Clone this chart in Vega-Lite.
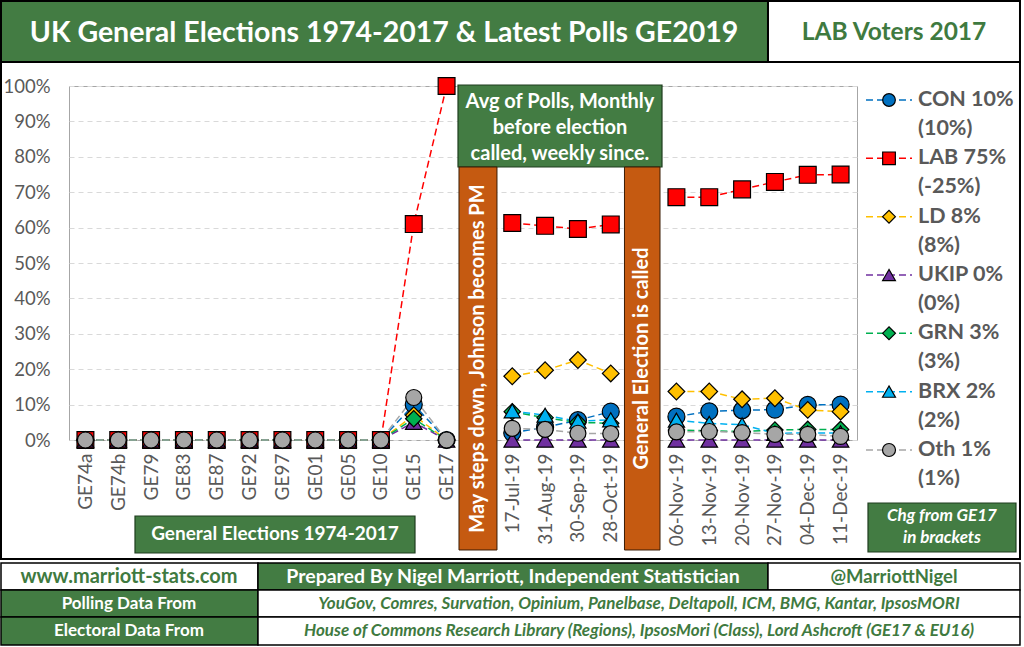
{
  "$schema": "https://vega.github.io/schema/vega-lite/v6.json",
  "width": 788,
  "height": 354,
  "autosize": {"type": "none"},
  "padding": {"left": 69, "top": 86, "right": 167, "bottom": 207},
  "background": "white",
  "config": {
    "font": "Lato",
    "view": {"stroke": "#A6A6A6", "strokeWidth": 1}
  },
  "datasets": {
    "votes": [
      {"when": "GE74a", "period": "GE", "party": "CON", "pct": 0},
      {"when": "GE74b", "period": "GE", "party": "CON", "pct": 0},
      {"when": "GE79", "period": "GE", "party": "CON", "pct": 0},
      {"when": "GE83", "period": "GE", "party": "CON", "pct": 0},
      {"when": "GE87", "period": "GE", "party": "CON", "pct": 0},
      {"when": "GE92", "period": "GE", "party": "CON", "pct": 0},
      {"when": "GE97", "period": "GE", "party": "CON", "pct": 0},
      {"when": "GE01", "period": "GE", "party": "CON", "pct": 0},
      {"when": "GE05", "period": "GE", "party": "CON", "pct": 0},
      {"when": "GE10", "period": "GE", "party": "CON", "pct": 0},
      {"when": "GE15", "period": "GE", "party": "CON", "pct": 10},
      {"when": "GE17", "period": "GE", "party": "CON", "pct": 0},
      {"when": "17-Jul-19", "period": "Monthly", "party": "CON", "pct": 2},
      {"when": "31-Aug-19", "period": "Monthly", "party": "CON", "pct": 3.6},
      {"when": "30-Sep-19", "period": "Monthly", "party": "CON", "pct": 5.6},
      {"when": "28-Oct-19", "period": "Monthly", "party": "CON", "pct": 8},
      {"when": "06-Nov-19", "period": "Weekly", "party": "CON", "pct": 6.6},
      {"when": "13-Nov-19", "period": "Weekly", "party": "CON", "pct": 8.1},
      {"when": "20-Nov-19", "period": "Weekly", "party": "CON", "pct": 8.4},
      {"when": "27-Nov-19", "period": "Weekly", "party": "CON", "pct": 8.6},
      {"when": "04-Dec-19", "period": "Weekly", "party": "CON", "pct": 9.9},
      {"when": "11-Dec-19", "period": "Weekly", "party": "CON", "pct": 10},

      {"when": "GE74a", "period": "GE", "party": "LAB", "pct": 0},
      {"when": "GE74b", "period": "GE", "party": "LAB", "pct": 0},
      {"when": "GE79", "period": "GE", "party": "LAB", "pct": 0},
      {"when": "GE83", "period": "GE", "party": "LAB", "pct": 0},
      {"when": "GE87", "period": "GE", "party": "LAB", "pct": 0},
      {"when": "GE92", "period": "GE", "party": "LAB", "pct": 0},
      {"when": "GE97", "period": "GE", "party": "LAB", "pct": 0},
      {"when": "GE01", "period": "GE", "party": "LAB", "pct": 0},
      {"when": "GE05", "period": "GE", "party": "LAB", "pct": 0},
      {"when": "GE10", "period": "GE", "party": "LAB", "pct": 0},
      {"when": "GE15", "period": "GE", "party": "LAB", "pct": 61},
      {"when": "GE17", "period": "GE", "party": "LAB", "pct": 100},
      {"when": "17-Jul-19", "period": "Monthly", "party": "LAB", "pct": 61.3},
      {"when": "31-Aug-19", "period": "Monthly", "party": "LAB", "pct": 60.5},
      {"when": "30-Sep-19", "period": "Monthly", "party": "LAB", "pct": 59.6},
      {"when": "28-Oct-19", "period": "Monthly", "party": "LAB", "pct": 60.9},
      {"when": "06-Nov-19", "period": "Weekly", "party": "LAB", "pct": 68.6},
      {"when": "13-Nov-19", "period": "Weekly", "party": "LAB", "pct": 68.6},
      {"when": "20-Nov-19", "period": "Weekly", "party": "LAB", "pct": 70.8},
      {"when": "27-Nov-19", "period": "Weekly", "party": "LAB", "pct": 72.9},
      {"when": "04-Dec-19", "period": "Weekly", "party": "LAB", "pct": 74.9},
      {"when": "11-Dec-19", "period": "Weekly", "party": "LAB", "pct": 75},

      {"when": "GE74a", "period": "GE", "party": "LD", "pct": 0},
      {"when": "GE74b", "period": "GE", "party": "LD", "pct": 0},
      {"when": "GE79", "period": "GE", "party": "LD", "pct": 0},
      {"when": "GE83", "period": "GE", "party": "LD", "pct": 0},
      {"when": "GE87", "period": "GE", "party": "LD", "pct": 0},
      {"when": "GE92", "period": "GE", "party": "LD", "pct": 0},
      {"when": "GE97", "period": "GE", "party": "LD", "pct": 0},
      {"when": "GE01", "period": "GE", "party": "LD", "pct": 0},
      {"when": "GE05", "period": "GE", "party": "LD", "pct": 0},
      {"when": "GE10", "period": "GE", "party": "LD", "pct": 0},
      {"when": "GE15", "period": "GE", "party": "LD", "pct": 7},
      {"when": "GE17", "period": "GE", "party": "LD", "pct": 0},
      {"when": "17-Jul-19", "period": "Monthly", "party": "LD", "pct": 18},
      {"when": "31-Aug-19", "period": "Monthly", "party": "LD", "pct": 19.7},
      {"when": "30-Sep-19", "period": "Monthly", "party": "LD", "pct": 22.6},
      {"when": "28-Oct-19", "period": "Monthly", "party": "LD", "pct": 18.8},
      {"when": "06-Nov-19", "period": "Weekly", "party": "LD", "pct": 13.7},
      {"when": "13-Nov-19", "period": "Weekly", "party": "LD", "pct": 13.7},
      {"when": "20-Nov-19", "period": "Weekly", "party": "LD", "pct": 11.5},
      {"when": "27-Nov-19", "period": "Weekly", "party": "LD", "pct": 11.8},
      {"when": "04-Dec-19", "period": "Weekly", "party": "LD", "pct": 8.5},
      {"when": "11-Dec-19", "period": "Weekly", "party": "LD", "pct": 8},

      {"when": "GE74a", "period": "GE", "party": "UKIP", "pct": 0},
      {"when": "GE74b", "period": "GE", "party": "UKIP", "pct": 0},
      {"when": "GE79", "period": "GE", "party": "UKIP", "pct": 0},
      {"when": "GE83", "period": "GE", "party": "UKIP", "pct": 0},
      {"when": "GE87", "period": "GE", "party": "UKIP", "pct": 0},
      {"when": "GE92", "period": "GE", "party": "UKIP", "pct": 0},
      {"when": "GE97", "period": "GE", "party": "UKIP", "pct": 0},
      {"when": "GE01", "period": "GE", "party": "UKIP", "pct": 0},
      {"when": "GE05", "period": "GE", "party": "UKIP", "pct": 0},
      {"when": "GE10", "period": "GE", "party": "UKIP", "pct": 0},
      {"when": "GE15", "period": "GE", "party": "UKIP", "pct": 5},
      {"when": "GE17", "period": "GE", "party": "UKIP", "pct": 0},
      {"when": "17-Jul-19", "period": "Monthly", "party": "UKIP", "pct": 0},
      {"when": "31-Aug-19", "period": "Monthly", "party": "UKIP", "pct": 0},
      {"when": "30-Sep-19", "period": "Monthly", "party": "UKIP", "pct": 0},
      {"when": "28-Oct-19", "period": "Monthly", "party": "UKIP", "pct": 0},
      {"when": "06-Nov-19", "period": "Weekly", "party": "UKIP", "pct": 0},
      {"when": "13-Nov-19", "period": "Weekly", "party": "UKIP", "pct": 0},
      {"when": "20-Nov-19", "period": "Weekly", "party": "UKIP", "pct": 0},
      {"when": "27-Nov-19", "period": "Weekly", "party": "UKIP", "pct": 0},
      {"when": "04-Dec-19", "period": "Weekly", "party": "UKIP", "pct": 0},
      {"when": "11-Dec-19", "period": "Weekly", "party": "UKIP", "pct": 0},

      {"when": "GE74a", "period": "GE", "party": "GRN", "pct": 0},
      {"when": "GE74b", "period": "GE", "party": "GRN", "pct": 0},
      {"when": "GE79", "period": "GE", "party": "GRN", "pct": 0},
      {"when": "GE83", "period": "GE", "party": "GRN", "pct": 0},
      {"when": "GE87", "period": "GE", "party": "GRN", "pct": 0},
      {"when": "GE92", "period": "GE", "party": "GRN", "pct": 0},
      {"when": "GE97", "period": "GE", "party": "GRN", "pct": 0},
      {"when": "GE01", "period": "GE", "party": "GRN", "pct": 0},
      {"when": "GE05", "period": "GE", "party": "GRN", "pct": 0},
      {"when": "GE10", "period": "GE", "party": "GRN", "pct": 0},
      {"when": "GE15", "period": "GE", "party": "GRN", "pct": 6},
      {"when": "GE17", "period": "GE", "party": "GRN", "pct": 0},
      {"when": "17-Jul-19", "period": "Monthly", "party": "GRN", "pct": 8},
      {"when": "31-Aug-19", "period": "Monthly", "party": "GRN", "pct": 6.3},
      {"when": "30-Sep-19", "period": "Monthly", "party": "GRN", "pct": 5},
      {"when": "28-Oct-19", "period": "Monthly", "party": "GRN", "pct": 4.7},
      {"when": "06-Nov-19", "period": "Weekly", "party": "GRN", "pct": 2.8},
      {"when": "13-Nov-19", "period": "Weekly", "party": "GRN", "pct": 2.6},
      {"when": "20-Nov-19", "period": "Weekly", "party": "GRN", "pct": 2.4},
      {"when": "27-Nov-19", "period": "Weekly", "party": "GRN", "pct": 2.8},
      {"when": "04-Dec-19", "period": "Weekly", "party": "GRN", "pct": 3},
      {"when": "11-Dec-19", "period": "Weekly", "party": "GRN", "pct": 3},

      {"when": "17-Jul-19", "period": "Monthly", "party": "BRX", "pct": 8.2},
      {"when": "31-Aug-19", "period": "Monthly", "party": "BRX", "pct": 7},
      {"when": "30-Sep-19", "period": "Monthly", "party": "BRX", "pct": 5.3},
      {"when": "28-Oct-19", "period": "Monthly", "party": "BRX", "pct": 5.7},
      {"when": "06-Nov-19", "period": "Weekly", "party": "BRX", "pct": 5.6},
      {"when": "13-Nov-19", "period": "Weekly", "party": "BRX", "pct": 4.7},
      {"when": "20-Nov-19", "period": "Weekly", "party": "BRX", "pct": 4.3},
      {"when": "27-Nov-19", "period": "Weekly", "party": "BRX", "pct": 1.9},
      {"when": "04-Dec-19", "period": "Weekly", "party": "BRX", "pct": 2},
      {"when": "11-Dec-19", "period": "Weekly", "party": "BRX", "pct": 2},

      {"when": "GE74a", "period": "GE", "party": "Oth", "pct": 0},
      {"when": "GE74b", "period": "GE", "party": "Oth", "pct": 0},
      {"when": "GE79", "period": "GE", "party": "Oth", "pct": 0},
      {"when": "GE83", "period": "GE", "party": "Oth", "pct": 0},
      {"when": "GE87", "period": "GE", "party": "Oth", "pct": 0},
      {"when": "GE92", "period": "GE", "party": "Oth", "pct": 0},
      {"when": "GE97", "period": "GE", "party": "Oth", "pct": 0},
      {"when": "GE01", "period": "GE", "party": "Oth", "pct": 0},
      {"when": "GE05", "period": "GE", "party": "Oth", "pct": 0},
      {"when": "GE10", "period": "GE", "party": "Oth", "pct": 0},
      {"when": "GE15", "period": "GE", "party": "Oth", "pct": 12},
      {"when": "GE17", "period": "GE", "party": "Oth", "pct": 0},
      {"when": "17-Jul-19", "period": "Monthly", "party": "Oth", "pct": 3.3},
      {"when": "31-Aug-19", "period": "Monthly", "party": "Oth", "pct": 3},
      {"when": "30-Sep-19", "period": "Monthly", "party": "Oth", "pct": 1.9},
      {"when": "28-Oct-19", "period": "Monthly", "party": "Oth", "pct": 1.8},
      {"when": "06-Nov-19", "period": "Weekly", "party": "Oth", "pct": 2.3},
      {"when": "13-Nov-19", "period": "Weekly", "party": "Oth", "pct": 2.4},
      {"when": "20-Nov-19", "period": "Weekly", "party": "Oth", "pct": 2.1},
      {"when": "27-Nov-19", "period": "Weekly", "party": "Oth", "pct": 1.6},
      {"when": "04-Dec-19", "period": "Weekly", "party": "Oth", "pct": 1.6},
      {"when": "11-Dec-19", "period": "Weekly", "party": "Oth", "pct": 1}
    ],
    "parties": [
      {"party": "CON", "label": "CON 10%", "chg": "(10%)"},
      {"party": "LAB", "label": "LAB 75%", "chg": "(-25%)"},
      {"party": "LD", "label": "LD 8%", "chg": "(8%)"},
      {"party": "UKIP", "label": "UKIP 0%", "chg": "(0%)"},
      {"party": "GRN", "label": "GRN 3%", "chg": "(3%)"},
      {"party": "BRX", "label": "BRX 2%", "chg": "(2%)"},
      {"party": "Oth", "label": "Oth 1%", "chg": "(1%)"}
    ]
  },
  "layer": [
    {
      "description": "Panels, boxes and notes around the plot, placed in the plot's own units (x: category slot, y: percent).",
      "data": {"values": [{}]},
      "layer": [
        {
          "mark": {"type": "rect", "fill": "#437C43", "stroke": "#000000", "strokeWidth": 2},
          "encoding": {
            "x": {"datum": -2.571, "type": "quantitative", "scale": {"domain": [-0.5, 23.5], "nice": false, "zero": false}, "axis": null},
            "x2": {"datum": 20.789},
            "y": {"datum": 124.01, "type": "quantitative", "scale": {"domain": [0, 100], "nice": false, "zero": false}, "axis": null},
            "y2": {"datum": 106.78}
          }
        },
        {
          "mark": {"type": "text", "color": "white", "fontSize": 28.5, "fontWeight": "bold", "align": "center", "baseline": "middle"},
          "encoding": {
            "x": {"datum": 9.094, "type": "quantitative", "scale": {"domain": [-0.5, 23.5], "nice": false, "zero": false}, "axis": null},
            "y": {"datum": 115.1, "type": "quantitative", "scale": {"domain": [0, 100], "nice": false, "zero": false}, "axis": null},
            "text": {"value": "UK General Elections 1974-2017 & Latest Polls GE2019"}
          }
        },
        {
          "mark": {"type": "rect", "fill": "white", "stroke": "#000000", "strokeWidth": 2},
          "encoding": {
            "x": {"datum": 20.789, "type": "quantitative", "scale": {"domain": [-0.5, 23.5], "nice": false, "zero": false}, "axis": null},
            "x2": {"datum": 28.464},
            "y": {"datum": 124.01, "type": "quantitative", "scale": {"domain": [0, 100], "nice": false, "zero": false}, "axis": null},
            "y2": {"datum": 106.78}
          }
        },
        {
          "mark": {"type": "text", "color": "#3F7A3F", "fontSize": 24.5, "fontWeight": "bold", "align": "center", "baseline": "middle"},
          "encoding": {
            "x": {"datum": 24.627, "type": "quantitative", "scale": {"domain": [-0.5, 23.5], "nice": false, "zero": false}, "axis": null},
            "y": {"datum": 115.1, "type": "quantitative", "scale": {"domain": [0, 100], "nice": false, "zero": false}, "axis": null},
            "text": {"value": "LAB Voters 2017"}
          }
        },
        {
          "mark": {"type": "rect", "fillOpacity": 0, "stroke": "#000000", "strokeWidth": 2},
          "encoding": {
            "x": {"datum": -2.571, "type": "quantitative", "scale": {"domain": [-0.5, 23.5], "nice": false, "zero": false}, "axis": null},
            "x2": {"datum": 28.464},
            "y": {"datum": 106.78, "type": "quantitative", "scale": {"domain": [0, 100], "nice": false, "zero": false}, "axis": null},
            "y2": {"datum": -33.62}
          }
        },
        {
          "mark": {"type": "rect", "fill": "#437C43", "stroke": "#1E3D1E", "strokeWidth": 1.2},
          "encoding": {
            "x": {"datum": 11.348, "type": "quantitative", "scale": {"domain": [-0.5, 23.5], "nice": false, "zero": false}, "axis": null},
            "x2": {"datum": 17.561},
            "y": {"datum": 100.28, "type": "quantitative", "scale": {"domain": [0, 100], "nice": false, "zero": false}, "axis": null},
            "y2": {"datum": 77.12}
          }
        },
        {
          "mark": {"type": "text", "color": "white", "fontSize": 20, "fontWeight": "bold", "align": "center", "baseline": "middle", "lineHeight": 26},
          "encoding": {
            "x": {"datum": 14.454, "type": "quantitative", "scale": {"domain": [-0.5, 23.5], "nice": false, "zero": false}, "axis": null},
            "y": {"datum": 95.48, "type": "quantitative", "scale": {"domain": [0, 100], "nice": false, "zero": false}, "axis": null},
            "text": {"value": ["Avg of Polls, Monthly", "before election", "called, weekly since."]}
          }
        },
        {
          "mark": {"type": "rect", "fill": "#C55A11", "stroke": "#3A1C05", "strokeWidth": 1},
          "encoding": {
            "x": {"datum": 11.378, "type": "quantitative", "scale": {"domain": [-0.5, 23.5], "nice": false, "zero": false}, "axis": null},
            "x2": {"datum": 12.535},
            "y": {"datum": 77.12, "type": "quantitative", "scale": {"domain": [0, 100], "nice": false, "zero": false}, "axis": null},
            "y2": {"datum": -31.07}
          }
        },
        {
          "mark": {"type": "text", "color": "white", "fontSize": 20, "fontWeight": "bold", "align": "center", "baseline": "middle", "angle": 270},
          "encoding": {
            "x": {"datum": 11.957, "type": "quantitative", "scale": {"domain": [-0.5, 23.5], "nice": false, "zero": false}, "axis": null},
            "y": {"datum": 23.02, "type": "quantitative", "scale": {"domain": [0, 100], "nice": false, "zero": false}, "axis": null},
            "text": {"value": "May steps down, Johnson  becomes PM"}
          }
        },
        {
          "mark": {"type": "rect", "fill": "#C55A11", "stroke": "#3A1C05", "strokeWidth": 1},
          "encoding": {
            "x": {"datum": 16.418, "type": "quantitative", "scale": {"domain": [-0.5, 23.5], "nice": false, "zero": false}, "axis": null},
            "x2": {"datum": 17.5},
            "y": {"datum": 77.12, "type": "quantitative", "scale": {"domain": [0, 100], "nice": false, "zero": false}, "axis": null},
            "y2": {"datum": -31.07}
          }
        },
        {
          "mark": {"type": "text", "color": "white", "fontSize": 20, "fontWeight": "bold", "align": "center", "baseline": "middle", "angle": 270},
          "encoding": {
            "x": {"datum": 16.952, "type": "quantitative", "scale": {"domain": [-0.5, 23.5], "nice": false, "zero": false}, "axis": null},
            "y": {"datum": 23.02, "type": "quantitative", "scale": {"domain": [0, 100], "nice": false, "zero": false}, "axis": null},
            "text": {"value": "General Election is called"}
          }
        },
        {
          "mark": {"type": "rect", "fill": "#437C43", "stroke": "#1E3D1E", "strokeWidth": 1.2},
          "encoding": {
            "x": {"datum": 1.51, "type": "quantitative", "scale": {"domain": [-0.5, 23.5], "nice": false, "zero": false}, "axis": null},
            "x2": {"datum": 10.038},
            "y": {"datum": -21.47, "type": "quantitative", "scale": {"domain": [0, 100], "nice": false, "zero": false}, "axis": null},
            "y2": {"datum": -31.92}
          }
        },
        {
          "mark": {"type": "text", "color": "white", "fontSize": 19, "fontWeight": "bold", "align": "center", "baseline": "middle"},
          "encoding": {
            "x": {"datum": 5.774, "type": "quantitative", "scale": {"domain": [-0.5, 23.5], "nice": false, "zero": false}, "axis": null},
            "y": {"datum": -26.69, "type": "quantitative", "scale": {"domain": [0, 100], "nice": false, "zero": false}, "axis": null},
            "text": {"value": "General Elections 1974-2017"}
          }
        },
        {
          "mark": {"type": "rect", "fill": "#437C43", "stroke": "#1E3D1E", "strokeWidth": 1.2},
          "encoding": {
            "x": {"datum": 23.835, "type": "quantitative", "scale": {"domain": [-0.5, 23.5], "nice": false, "zero": false}, "axis": null},
            "x2": {"datum": 28.342},
            "y": {"datum": -17.8, "type": "quantitative", "scale": {"domain": [0, 100], "nice": false, "zero": false}, "axis": null},
            "y2": {"datum": -31.64}
          }
        },
        {
          "mark": {"type": "text", "color": "white", "fontSize": 17, "fontWeight": "bold", "fontStyle": "italic", "align": "center", "baseline": "middle", "lineHeight": 22},
          "encoding": {
            "x": {"datum": 26.089, "type": "quantitative", "scale": {"domain": [-0.5, 23.5], "nice": false, "zero": false}, "axis": null},
            "y": {"datum": -21.47, "type": "quantitative", "scale": {"domain": [0, 100], "nice": false, "zero": false}, "axis": null},
            "text": {"value": ["Chg from GE17", "in brackets"]}
          }
        },
        {
          "mark": {"type": "rect", "fill": "white", "stroke": "#000000", "strokeWidth": 1.5},
          "encoding": {
            "x": {"datum": -2.571, "type": "quantitative", "scale": {"domain": [-0.5, 23.5], "nice": false, "zero": false}, "axis": null},
            "x2": {"datum": 5.256},
            "y": {"datum": -34.746, "type": "quantitative", "scale": {"domain": [0, 100], "nice": false, "zero": false}, "axis": null},
            "y2": {"datum": -42.373}
          }
        },
        {
          "mark": {"type": "text", "color": "#3F7A3F", "fontSize": 20, "fontWeight": "bold", "align": "center", "baseline": "middle"},
          "encoding": {
            "x": {"datum": 1.327, "type": "quantitative", "scale": {"domain": [-0.5, 23.5], "nice": false, "zero": false}, "axis": null},
            "y": {"datum": -38.56, "type": "quantitative", "scale": {"domain": [0, 100], "nice": false, "zero": false}, "axis": null},
            "text": {"value": "www.marriott-stats.com"}
          }
        },
        {
          "mark": {"type": "rect", "fill": "#437C43", "stroke": "#000000", "strokeWidth": 1.5},
          "encoding": {
            "x": {"datum": 5.256, "type": "quantitative", "scale": {"domain": [-0.5, 23.5], "nice": false, "zero": false}, "axis": null},
            "x2": {"datum": 20.789},
            "y": {"datum": -34.746, "type": "quantitative", "scale": {"domain": [0, 100], "nice": false, "zero": false}, "axis": null},
            "y2": {"datum": -42.373}
          }
        },
        {
          "mark": {"type": "text", "color": "white", "fontSize": 19.5, "fontWeight": "bold", "align": "center", "baseline": "middle"},
          "encoding": {
            "x": {"datum": 13.023, "type": "quantitative", "scale": {"domain": [-0.5, 23.5], "nice": false, "zero": false}, "axis": null},
            "y": {"datum": -38.56, "type": "quantitative", "scale": {"domain": [0, 100], "nice": false, "zero": false}, "axis": null},
            "text": {"value": "Prepared By Nigel Marriott, Independent Statistician"}
          }
        },
        {
          "mark": {"type": "rect", "fill": "white", "stroke": "#000000", "strokeWidth": 1.5},
          "encoding": {
            "x": {"datum": 20.789, "type": "quantitative", "scale": {"domain": [-0.5, 23.5], "nice": false, "zero": false}, "axis": null},
            "x2": {"datum": 28.464},
            "y": {"datum": -34.746, "type": "quantitative", "scale": {"domain": [0, 100], "nice": false, "zero": false}, "axis": null},
            "y2": {"datum": -42.373}
          }
        },
        {
          "mark": {"type": "text", "color": "#3F7A3F", "fontSize": 18.5, "fontWeight": "bold", "align": "center", "baseline": "middle"},
          "encoding": {
            "x": {"datum": 24.627, "type": "quantitative", "scale": {"domain": [-0.5, 23.5], "nice": false, "zero": false}, "axis": null},
            "y": {"datum": -38.56, "type": "quantitative", "scale": {"domain": [0, 100], "nice": false, "zero": false}, "axis": null},
            "text": {"value": "@MarriottNigel"}
          }
        },
        {
          "mark": {"type": "rect", "fill": "#437C43", "stroke": "#000000", "strokeWidth": 1.5},
          "encoding": {
            "x": {"datum": -2.571, "type": "quantitative", "scale": {"domain": [-0.5, 23.5], "nice": false, "zero": false}, "axis": null},
            "x2": {"datum": 5.256},
            "y": {"datum": -42.373, "type": "quantitative", "scale": {"domain": [0, 100], "nice": false, "zero": false}, "axis": null},
            "y2": {"datum": -50.0}
          }
        },
        {
          "mark": {"type": "text", "color": "white", "fontSize": 17, "fontWeight": "bold", "align": "center", "baseline": "middle"},
          "encoding": {
            "x": {"datum": 1.327, "type": "quantitative", "scale": {"domain": [-0.5, 23.5], "nice": false, "zero": false}, "axis": null},
            "y": {"datum": -46.19, "type": "quantitative", "scale": {"domain": [0, 100], "nice": false, "zero": false}, "axis": null},
            "text": {"value": "Polling Data From"}
          }
        },
        {
          "mark": {"type": "rect", "fill": "white", "stroke": "#000000", "strokeWidth": 1.5},
          "encoding": {
            "x": {"datum": 5.256, "type": "quantitative", "scale": {"domain": [-0.5, 23.5], "nice": false, "zero": false}, "axis": null},
            "x2": {"datum": 28.464},
            "y": {"datum": -42.373, "type": "quantitative", "scale": {"domain": [0, 100], "nice": false, "zero": false}, "axis": null},
            "y2": {"datum": -50.0}
          }
        },
        {
          "mark": {"type": "text", "color": "#3F7A3F", "fontSize": 17, "fontWeight": "bold", "fontStyle": "italic", "align": "center", "baseline": "middle"},
          "encoding": {
            "x": {"datum": 16.86, "type": "quantitative", "scale": {"domain": [-0.5, 23.5], "nice": false, "zero": false}, "axis": null},
            "y": {"datum": -46.19, "type": "quantitative", "scale": {"domain": [0, 100], "nice": false, "zero": false}, "axis": null},
            "text": {"value": "YouGov, Comres, Survation, Opinium, Panelbase, Deltapoll, ICM, BMG, Kantar, IpsosMORI"}
          }
        },
        {
          "mark": {"type": "rect", "fill": "#437C43", "stroke": "#000000", "strokeWidth": 1.5},
          "encoding": {
            "x": {"datum": -2.571, "type": "quantitative", "scale": {"domain": [-0.5, 23.5], "nice": false, "zero": false}, "axis": null},
            "x2": {"datum": 5.256},
            "y": {"datum": -50.0, "type": "quantitative", "scale": {"domain": [0, 100], "nice": false, "zero": false}, "axis": null},
            "y2": {"datum": -57.91}
          }
        },
        {
          "mark": {"type": "text", "color": "white", "fontSize": 17, "fontWeight": "bold", "align": "center", "baseline": "middle"},
          "encoding": {
            "x": {"datum": 1.327, "type": "quantitative", "scale": {"domain": [-0.5, 23.5], "nice": false, "zero": false}, "axis": null},
            "y": {"datum": -53.95, "type": "quantitative", "scale": {"domain": [0, 100], "nice": false, "zero": false}, "axis": null},
            "text": {"value": "Electoral Data From"}
          }
        },
        {
          "mark": {"type": "rect", "fill": "white", "stroke": "#000000", "strokeWidth": 1.5},
          "encoding": {
            "x": {"datum": 5.256, "type": "quantitative", "scale": {"domain": [-0.5, 23.5], "nice": false, "zero": false}, "axis": null},
            "x2": {"datum": 28.464},
            "y": {"datum": -50.0, "type": "quantitative", "scale": {"domain": [0, 100], "nice": false, "zero": false}, "axis": null},
            "y2": {"datum": -57.91}
          }
        },
        {
          "mark": {"type": "text", "color": "#3F7A3F", "fontSize": 17, "fontWeight": "bold", "fontStyle": "italic", "align": "center", "baseline": "middle"},
          "encoding": {
            "x": {"datum": 16.86, "type": "quantitative", "scale": {"domain": [-0.5, 23.5], "nice": false, "zero": false}, "axis": null},
            "y": {"datum": -53.95, "type": "quantitative", "scale": {"domain": [0, 100], "nice": false, "zero": false}, "axis": null},
            "text": {"value": "House of Commons Research Library (Regions), IpsosMori (Class), Lord Ashcroft (GE17 & EU16)"}
          }
        }
      ]
    },
    {
      "description": "Vote shares: dashed lines within each period, markers on top.",
      "data": {"name": "votes"},
      "encoding": {
        "x": {
          "field": "when", "type": "nominal",
          "scale": {"type": "point", "padding": 0.5, "domain": ["GE74a", "GE74b", "GE79", "GE83", "GE87", "GE92", "GE97", "GE01", "GE05", "GE10", "GE15", "GE17", "gap1", "17-Jul-19", "31-Aug-19", "30-Sep-19", "28-Oct-19", "gap2", "06-Nov-19", "13-Nov-19", "20-Nov-19", "27-Nov-19", "04-Dec-19", "11-Dec-19"]},
          "axis": {
            "title": null, "labelAngle": -90, "labelFontSize": 19, "labelColor": "#595959",
            "labelExpr": "indexof(datum.value, 'gap') == 0 ? '' : datum.value",
            "ticks": false, "tickSize": 0, "domain": false, "grid": false, "labelPadding": 13,
            "labelOverlap": false
          }
        },
        "y": {
          "field": "pct", "type": "quantitative",
          "scale": {"domain": [0, 100], "nice": false, "zero": false},
          "axis": {
            "title": null, "values": [0, 10, 20, 30, 40, 50, 60, 70, 80, 90, 100],
            "labelExpr": "datum.value + '%'", "labelFontSize": 18.5, "labelColor": "#595959",
            "ticks": false, "tickSize": 0, "domain": false, "labelPadding": 19, "labelOverlap": false,
            "grid": true, "gridColor": "#D9D9D9", "gridDash": [5, 4]
          }
        },
        "color": {
          "field": "party", "type": "nominal",
          "scale": {"domain": ["CON", "LAB", "LD", "UKIP", "GRN", "BRX", "Oth"], "range": ["#0070C0", "#FF0000", "#FFC000", "#7030A0", "#00B050", "#00B0F0", "#A6A6A6"]},
          "legend": null
        }
      },
      "layer": [
        {
          "mark": {"type": "line", "strokeWidth": 1.5, "strokeDash": [7, 4]},
          "encoding": {
            "detail": {"field": "period", "type": "nominal"}
          }
        },
        {
          "mark": {"type": "point", "filled": true, "opacity": 1, "stroke": "#000000", "strokeWidth": 1.2},
          "encoding": {
            "shape": {
              "field": "party", "type": "nominal",
              "scale": {"domain": ["CON", "LAB", "LD", "UKIP", "GRN", "BRX", "Oth"], "range": ["circle", "square", "diamond", "triangle-up", "diamond", "triangle-up", "circle"]},
              "legend": null
            },
            "size": {
              "field": "party", "type": "nominal",
              "scale": {"domain": ["CON", "LAB", "LD", "UKIP", "GRN", "BRX", "Oth"], "range": [289, 256, 300, 256, 170, 225, 121]},
              "legend": null
            }
          }
        }
      ]
    },
    {
      "description": "Key: one row per party, latest share and change since GE17.",
      "data": {"name": "parties"},
      "encoding": {
        "y": {
          "field": "party", "type": "nominal",
          "scale": {"type": "point", "padding": 0, "domain": ["CON", "LAB", "LD", "UKIP", "GRN", "BRX", "Oth"], "range": [14, 364]},
          "axis": null
        }
      },
      "layer": [
        {
          "mark": {"type": "rule", "strokeWidth": 1.5, "strokeDash": [7, 4]},
          "encoding": {
            "x": {"datum": 23.774, "type": "quantitative", "scale": {"domain": [-0.5, 23.5], "nice": false, "zero": false}, "axis": null},
            "x2": {"datum": 25.175},
            "color": {"field": "party", "type": "nominal", "legend": null}
          }
        },
        {
          "mark": {"type": "point", "filled": true, "opacity": 1, "stroke": "#000000", "strokeWidth": 1.2},
          "encoding": {
            "x": {"datum": 24.475, "type": "quantitative", "scale": {"domain": [-0.5, 23.5], "nice": false, "zero": false}, "axis": null},
            "color": {"field": "party", "type": "nominal", "legend": null},
            "shape": {"field": "party", "type": "nominal", "legend": null},
            "size": {
              "field": "party", "type": "nominal",
              "scale": {"domain": ["CON", "LAB", "LD", "UKIP", "GRN", "BRX", "Oth"], "range": [160, 169, 200, 196, 170, 196, 100]},
              "legend": null
            }
          }
        },
        {
          "mark": {"type": "text", "align": "left", "baseline": "middle", "fontSize": 21.5, "fontWeight": "bold", "color": "#595959"},
          "encoding": {
            "x": {"datum": 25.358, "type": "quantitative", "scale": {"domain": [-0.5, 23.5], "nice": false, "zero": false}, "axis": null},
            "text": {"field": "label", "type": "nominal"}
          }
        },
        {
          "mark": {"type": "text", "align": "left", "baseline": "middle", "fontSize": 21.5, "fontWeight": "bold", "color": "#595959", "dy": 29},
          "encoding": {
            "x": {"datum": 25.358, "type": "quantitative", "scale": {"domain": [-0.5, 23.5], "nice": false, "zero": false}, "axis": null},
            "text": {"field": "chg", "type": "nominal"}
          }
        }
      ]
    }
  ],
  "resolve": {"scale": {"x": "independent", "y": "independent", "size": "independent"}}
}
